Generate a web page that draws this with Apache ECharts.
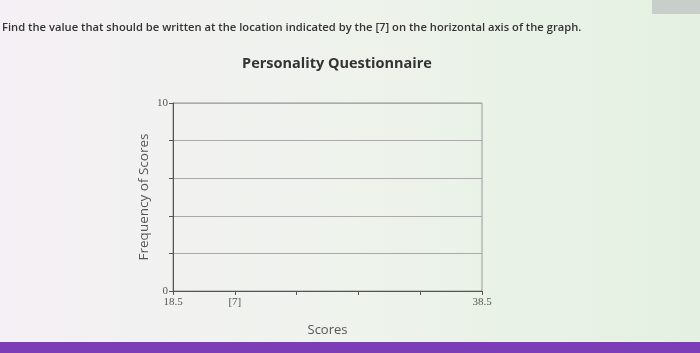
<!DOCTYPE html>
<html>
<head>
<meta charset="utf-8">
<script src="https://cdn.jsdelivr.net/npm/echarts@6/dist/echarts.min.js"></script>
<style>html,body{margin:0;padding:0;}#c{width:700px;height:353px;}</style>
</head>
<body>
<div id="c"></div>
<script>
var questionText = 'Find the value that should be written at the location indicated by the [7] on the horizontal axis of the graph.';
var chartTitle = 'Personality Questionnaire';
var xName = 'Scores';
var yName = 'Frequency of Scores';
var xCategories = ['18.5', '[7]', '', '', '', '38.5'];
var yMin = 0, yMax = 10, yStep = 2;
var yLabelsShown = [0, 10];
var seriesValues = [null, null, null, null, null, null];

var chart = echarts.init(document.getElementById('c'));
chart.setOption({
  backgroundColor: {type:'linear', x:0, y:0, x2:1, y2:0, colorStops:[{offset:0,color:'#f5f0f5'},{offset:0.5,color:'#eef3ec'},{offset:1,color:'#e4f1e2'}]},
  animation: false,
  title: {text: chartTitle, left: 332, top: 51, textAlign: 'center',
    textStyle: {fontFamily: 'Open Sans', fontWeight: 'bold', fontSize: 14.5, color: '#333'}},
  graphic: [
    {type:'text', left: 2, top: 22, style:{text: questionText, font:'600 11.2px "Open Sans"', fill:'#333'}},
    {type:'rect', shape:{x:0,y:342,width:700,height:11}, style:{fill:'#7b3eb6'}},
    {type:'rect', shape:{x:652,y:0,width:48,height:14}, style:{fill:'#c8cfca'}}
  ],
  grid: {left: 173, right: 218, top: 103, bottom: 62, show: true, borderColor: '#999', borderWidth: 1, backgroundColor: 'transparent'},
  xAxis: {type:'category', data: xCategories, boundaryGap:false,
    name: xName, nameLocation:'middle', nameGap: 33,
    nameTextStyle:{fontFamily:'Open Sans', fontSize:13, color:'#555'},
    axisLine:{lineStyle:{color:'#555'}}, axisTick:{alignWithLabel:true, length:4, lineStyle:{color:'#555'}},
    axisLabel:{fontFamily:'Liberation Serif', fontSize:11, color:'#555', margin:6, interval:0},
    splitLine:{show:false}},
  yAxis: {type:'value', min:yMin, max:yMax, interval:yStep,
    name: yName, nameLocation:'middle', nameGap: 22,
    nameTextStyle:{fontFamily:'Open Sans', fontSize:13.5, color:'#555'},
    axisLine:{show:true, lineStyle:{color:'#555'}}, axisTick:{show:true, length:4, lineStyle:{color:'#555'}},
    axisLabel:{fontFamily:'Liberation Serif', fontSize:11, color:'#555', margin:5,
      formatter:function(v){return yLabelsShown.indexOf(v) >= 0 ? String(v) : '';}},
    splitLine:{show:true, lineStyle:{color:'#aaa'}}},
  series: [{type:'bar', data: seriesValues, barWidth:'100%'}]
});
</script>
</body>
</html>
